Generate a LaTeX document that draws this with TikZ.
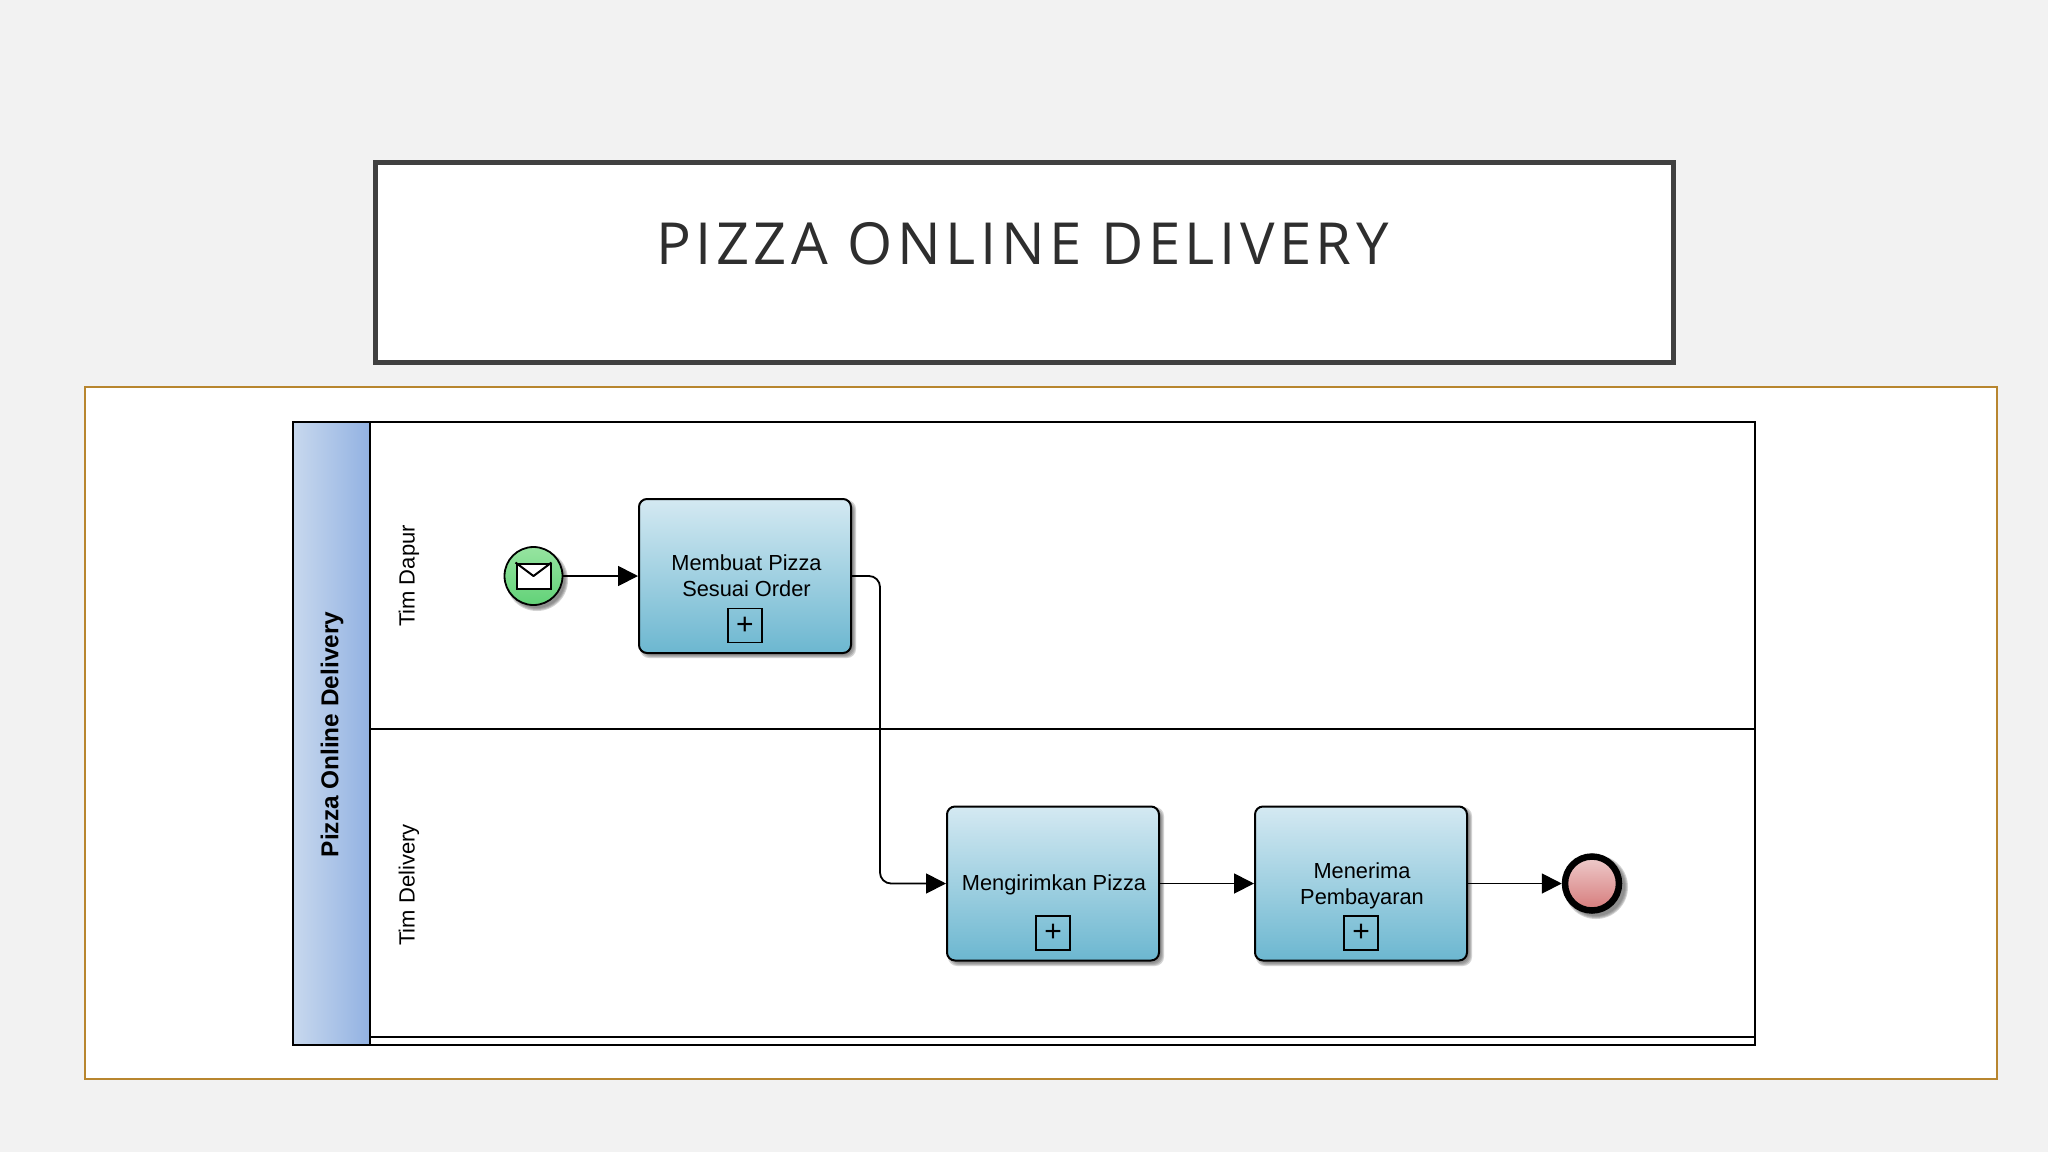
\documentclass[tikz,border=0pt]{standalone}
\usepackage{fontspec}
\setmainfont{Liberation Sans}
\newfontfamily\titlefont[LetterSpace=7.8]{Open Sans}
\usetikzlibrary{arrows.meta,calc}
\definecolor{pagebg}{HTML}{F2F2F2}
\definecolor{titleline}{HTML}{404040}
\definecolor{titletext}{HTML}{2E2E2E}
\definecolor{gold}{HTML}{B8862F}
\tikzset{
  x=1pt,y=-1pt,
  softshadow/.style={fill=black!60,draw=none,opacity=.28},
  tasktext/.style={align=center,font=\fontsize{21.8}{26}\selectfont,inner sep=0pt},
  taskbox/.style={rectangle,rounded corners=8pt,draw=black,line width=2pt,minimum width=212pt,minimum height=154pt,
    top color={rgb,255:red,212;green,233;blue,242},bottom color={rgb,255:red,108;green,183;blue,208},inner sep=0pt},
  plusbox/.style={rectangle,draw=black,line width=1.7pt,minimum width=34pt,minimum height=34pt,inner sep=0pt,font=\fontsize{30}{30}\selectfont},
  flow/.style={draw=black,line width=1.8pt,-{Triangle[length=20pt,width=20pt]},rounded corners=11pt},
  lanetext/.style={rotate=90,font=\fontsize{22}{26}\selectfont,inner sep=0pt},
}
\newcommand{\softbox}[4]{%
  \fill[softshadow,rounded corners=9pt] (#1+1,#2+1) rectangle (#3+5,#4+5);
  \fill[softshadow,rounded corners=9pt] (#1+2,#2+2) rectangle (#3+4,#4+4);
  \fill[softshadow,rounded corners=9pt] (#1+3,#2+3) rectangle (#3+3,#4+3);
  \fill[softshadow,rounded corners=9pt] (#1+4,#2+4) rectangle (#3+2,#4+2);}
\newcommand{\softdisc}[3]{%
  \fill[softshadow] (#1,#2) circle[radius=#3+2];
  \fill[softshadow] (#1,#2) circle[radius=#3+1];
  \fill[softshadow] (#1,#2) circle[radius=#3];
  \fill[softshadow] (#1,#2) circle[radius=#3-1];}
\begin{document}
\begin{tikzpicture}
\useasboundingbox (0,0) rectangle (2048,1152);
\fill[pagebg] (0,0) rectangle (2048,1152);
% title
\node[rectangle,draw=titleline,fill=white,line width=5pt,minimum width=1298pt,minimum height=200pt,inner sep=0pt] (titlebox) at (1024,262) {};
\node[font=\titlefont\fontsize{58}{64}\selectfont,text=titletext,inner sep=0pt] (titletxt) at (1022.5,244) {PIZZA ONLINE DELIVERY};
% content panel
\node[rectangle,draw=gold,fill=white,line width=1.8pt,minimum width=1912pt,minimum height=692pt,inner sep=0pt] (panel) at (1041,733) {};
% pool
\node[rectangle,draw=black,line width=2pt,fill=white,minimum width=1462pt,minimum height=623pt,inner sep=0pt] (pool) at (1024,733.5) {};
\node[rectangle,draw=black,line width=2.2pt,left color={rgb,255:red,200;green,216;blue,238},right color={rgb,255:red,146;green,178;blue,226},minimum width=77pt,minimum height=623pt,inner sep=0pt] (header) at (331.5,733.5) {};
\node[rotate=90,font=\bfseries\fontsize{24.4}{28}\selectfont,inner sep=0pt] (pooltxt) at (332,734.5) {Pizza Online Delivery};
\coordinate (s1a) at (370,729);
\coordinate (s1b) at (1755,729);
\coordinate (s2a) at (370,1037);
\coordinate (s2b) at (1755,1037);
\draw[line width=2pt] (s1a) -- (s1b);
\draw[line width=2pt] (s2a) -- (s2b);
\node[lanetext] (lane1) at (409,576) {Tim Dapur};
\node[lanetext] (lane2) at (409,885) {Tim Delivery};
% shadows
\softbox{639}{499}{851}{653}
\softbox{947}{806}{1159}{961}
\softbox{1255}{806}{1467}{961}
\softdisc{537}{580}{29}
\softdisc{1596}{887}{30}
% tasks
\node[taskbox] (t1) at (745,576) {};
\node[tasktext] (t1txt) at (746.5,575.5) {Membuat Pizza\\Sesuai Order};
\node[plusbox] (p1) at (745,625.5) {+};
\node[taskbox] (t2) at (1053,883.5) {};
\node[tasktext] (t2txt) at (1054,884.5) {Mengirimkan Pizza};
\node[plusbox] (p2) at (1053,933) {+};
\node[taskbox] (t3) at (1361,883.5) {};
\node[tasktext] (t3txt) at (1362,885.5) {Menerima\\Pembayaran};
\node[plusbox] (p3) at (1361,933) {+};
% start event
\node[circle,draw=black,line width=1.8pt,minimum size=58pt,inner sep=0pt,top color={rgb,255:red,150;green,228;blue,160},bottom color={rgb,255:red,98;green,210;blue,120}] (start) at (533.5,576) {};
\node[rectangle,draw=black,fill=white,line width=2pt,minimum width=34pt,minimum height=25pt,inner sep=0pt] (env) at (533.5,576) {};
\draw[line width=2pt,line join=round] (env.north west) -- (env.center) -- (env.north east);
% end event
\node[circle,draw=black,line width=6.5pt,minimum size=54pt,inner sep=0pt,top color={rgb,255:red,238;green,204;blue,204},bottom color={rgb,255:red,214;green,122;blue,122}] (endev) at (1592,883.5) {};
% flows
\draw[flow] (start.east) -- (t1.west);
\coordinate (bendx) at (880,576);
\draw[flow] (t1.east) -- (bendx) -- (bendx |- t2.west) -- (t2.west);
\draw[flow] (t2.east) -- (t3.west);
\draw[flow] (t3.east) -- (endev.west);
\end{tikzpicture}
\end{document}
